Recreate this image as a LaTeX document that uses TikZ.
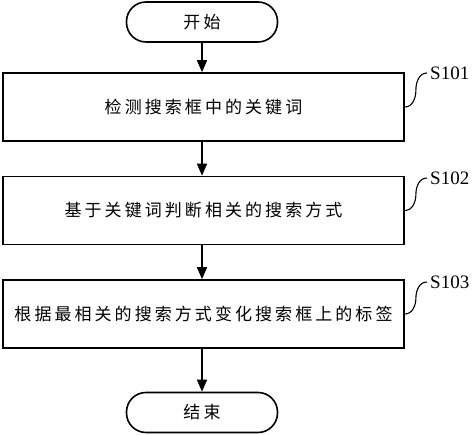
\documentclass[tikz,border=0pt]{standalone}
\usepackage{fontspec}
\setmainfont{Liberation Serif}
\newfontfamily\cjk{Noto Sans CJK SC}[LetterSpace=18]
\usetikzlibrary{arrows.meta,calc}
\begin{document}
\begin{tikzpicture}[x=1pt,y=1pt,
  term/.style={draw, line width=1.6pt, rounded corners=19.5pt, minimum width=151pt, minimum height=40pt, inner sep=0pt, font=\cjk\fontsize{17}{17}\selectfont},
  stepbox/.style={draw, line width=1.6pt, minimum width=401pt, minimum height=68pt, inner sep=0pt, font=\cjk\fontsize{17}{17}\selectfont},
  flow/.style={line width=1.6pt, -{Triangle[length=12pt,width=10pt]}},
  squig/.style={line width=1.1pt},
  lab/.style={anchor=west, inner xsep=3pt, inner ysep=0pt, font=\fontsize{19}{19}\selectfont}]
\useasboundingbox (0,0) rectangle (474,435);
\node[term] (start) at (202,413) {开始};
\node[stepbox] (b1) at (203.5,328) {检测搜索框中的关键词};
\node[stepbox] (b2) at (203.5,224.5) {基于关键词判断相关的搜索方式};
\node[stepbox] (b3) at (203.5,121) {根据最相关的搜索方式变化搜索框上的标签};
\node[term] (end) at (202,22.5) {结束};
\draw[flow] (start.south -| 202,0) -- (b1.north -| 202,0);
\draw[flow] (b1.south -| 202,0) -- (b2.north -| 202,0);
\draw[flow] (b2.south -| 202,0) -- (b3.north -| 202,0);
\draw[flow] (b3.south -| 202,0) -- (end.north -| 202,0);
\node[lab] (s1) at (427,362) {S101};
\node[lab] (s2) at (427,257) {S102};
\node[lab] (s3) at (427,153) {S103};
\foreach \b/\s in {b1/s1,b2/s2,b3/s3}{
  \draw[squig] (\b.east) to[out=0,in=-90] ($(\b.east)!0.5!(\s.west)$) to[out=90,in=180] (\s.west);
}
\end{tikzpicture}
\end{document}
